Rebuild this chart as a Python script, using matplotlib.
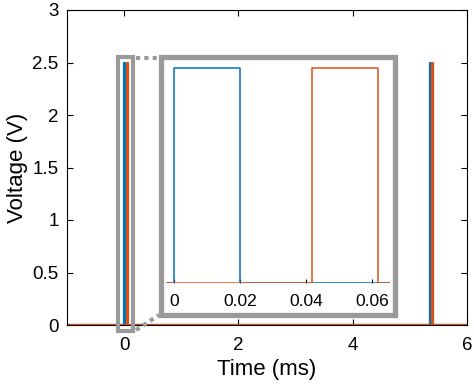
import matplotlib
matplotlib.use('Agg')
import matplotlib.pyplot as plt
from matplotlib.patches import Rectangle
from matplotlib.lines import Line2D

plt.rcParams['font.family'] = ['Liberation Sans', 'DejaVu Sans']

# pulse trains (time in ms, voltage in V)
t_blue = [-1, 0, 0, 0.02, 0.02, 5.35, 5.35, 5.37, 5.37, 6]
v_blue = [0, 0, 2.5, 2.5, 0, 0, 2.5, 2.5, 0, 0]
t_orange = [-1, 0.042, 0.042, 0.062, 0.062, 5.392, 5.392, 5.412, 5.412, 6]
v_orange = [0, 0, 2.5, 2.5, 0, 0, 2.5, 2.5, 0, 0]

main_xticks = [0, 2, 4, 6]
main_yticks = [0, 0.5, 1, 1.5, 2, 2.5, 3]
inset_xticks = [0, 0.02, 0.04, 0.06]
inset_xlabels = ['0', '0.02', '0.04', '0.06']

blue = '#0072BD'
orange = '#D95319'
gray = '#9a9a9a'

W, H = 474, 389
fig = plt.figure(figsize=(W / 100, H / 100), dpi=100)

def fx(px):
    return px / W

def fy(py):
    return 1 - py / H

ax = fig.add_axes([fx(67), fy(325), fx(467) - fx(67), fy(10) - fy(325)])
ax.plot(t_blue, v_blue, color=blue, lw=1.6)
ax.plot(t_orange, v_orange, color=orange, lw=1.6)
ax.set_xlim(-1, 6)
ax.set_ylim(0, 3)
ax.set_xticks(main_xticks)
ax.set_xticklabels([str(v) for v in main_xticks])
ax.set_yticks(main_yticks)
ax.set_yticklabels(['0', '0.5', '1', '1.5', '2', '2.5', '3'])
ax.tick_params(direction='in', top=True, right=True, length=4, width=0.8,
               labelsize=13.5)
ax.tick_params(axis='x', pad=9)
ax.tick_params(axis='y', pad=6)
ax.set_xlabel('Time (ms)', fontsize=16, labelpad=3)
ax.set_ylabel('Voltage (V)', fontsize=16, labelpad=3)
for s in ax.spines.values():
    s.set_linewidth(0.8)

# small zoom box in the main axes
ax.add_patch(Rectangle((-0.105, -0.057), 0.263, 2.607, fill=False,
                       edgecolor=gray, lw=3, clip_on=False, zorder=5))

# inset axes
ins = fig.add_axes([fx(166), fy(283), fx(390) - fx(166), fy(59) - fy(283)])
ins.plot(t_blue, v_blue, color=blue, lw=1.1)
ins.plot(t_orange, v_orange, color=orange, lw=1.1)
ins.set_xlim(-0.0024, 0.0655)
ins.set_ylim(0, 2.6)
ins.set_xticks(inset_xticks)
ins.set_xticklabels(inset_xlabels)
ins.set_yticks([])
for s in ins.spines.values():
    s.set_visible(False)
ins.tick_params(axis='x', direction='in', length=3, width=0.8,
                labelsize=12.5, pad=8)
ins.patch.set_alpha(0)

# inset frame and connectors, figure coordinates
fig.add_artist(Rectangle((fx(160.5), fy(314.5)), fx(394.5) - fx(160.5),
                         fy(57.5) - fy(314.5), fill=False, edgecolor=gray,
                         lw=3.8, transform=fig.transFigure))
fig.add_artist(Line2D([fx(136), fx(158)], [fy(58), fy(58)], color=gray,
                      lw=3, ls=(0, (1, 1)), transform=fig.transFigure))
fig.add_artist(Line2D([fx(136), fx(159)], [fy(330), fy(315)], color=gray,
                      lw=3, ls=(0, (1, 1)), transform=fig.transFigure))

fig.savefig('out.png', dpi=100)
